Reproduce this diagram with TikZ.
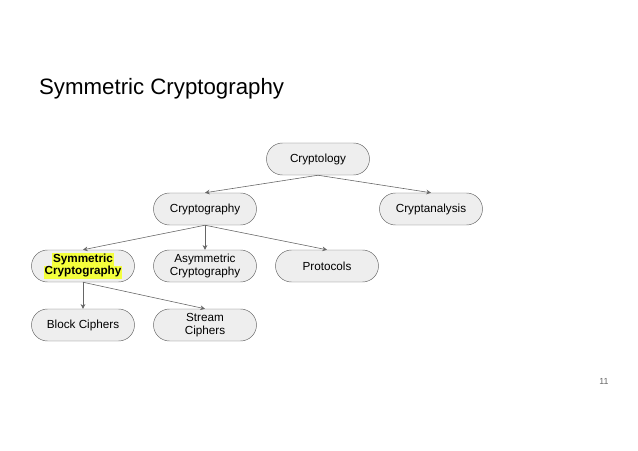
\documentclass[tikz,border=0pt]{standalone}
\usepackage{fontspec}
\setmainfont{Liberation Sans}
\usetikzlibrary{arrows.meta}
\definecolor{boxfill}{HTML}{EEEEEE}
\definecolor{boxline}{HTML}{666666}
\definecolor{hly}{HTML}{F4FF3C}
\newcommand{\hlbox}[1]{{\setlength{\fboxsep}{0.5pt}\colorbox{hly}{\strut #1}}}
\begin{document}
\begin{tikzpicture}[x=0.03cm,y=-0.03cm,
  pill/.style={draw=boxline,fill=boxfill,rounded corners=0.48cm,minimum width=3.09cm,minimum height=0.96cm,align=center,font=\fontsize{10}{11.5}\selectfont,inner sep=1pt},
  conn/.style={draw=boxline,-{Stealth[length=4pt,width=4pt]},line width=0.5pt}]
\useasboundingbox (0,0) rectangle (638,451);
\node[anchor=west,font=\fontsize{19}{22}\selectfont] (title) at (35,89) {Symmetric Cryptography};
\node (cl) [pill] at (318,159) {Cryptology};
\node (cg) [pill] at (205,209) {Cryptography};
\node (ca) [pill] at (431,209) {Cryptanalysis};
\node (sy) [pill,font=\fontsize{10}{10}\bfseries\selectfont] at (83,266) {\hlbox{Symmetric}\\[-1.5pt]\hlbox{Cryptography}};
\node (as) [pill] at (205,266) {Asymmetric\\Cryptography};
\node (pr) [pill] at (327,266) {Protocols};
\node (bc) [pill] at (83,325) {Block Ciphers};
\node (sc) [pill] at (205,325) {Stream\\Ciphers};
\node[font=\fontsize{7.5}{9}\selectfont,text=boxline] (pg) at (604,381) {11};
\draw[conn] (cl.south) -- (cg.north);
\draw[conn] (cl.south) -- (ca.north);
\draw[conn] (cg.south) -- (sy.north);
\draw[conn] (cg.south) -- (as.north);
\draw[conn] (cg.south) -- (pr.north);
\draw[conn] (sy.south) -- (bc.north);
\draw[conn] (sy.south) -- (sc.north);
\end{tikzpicture}
\end{document}
